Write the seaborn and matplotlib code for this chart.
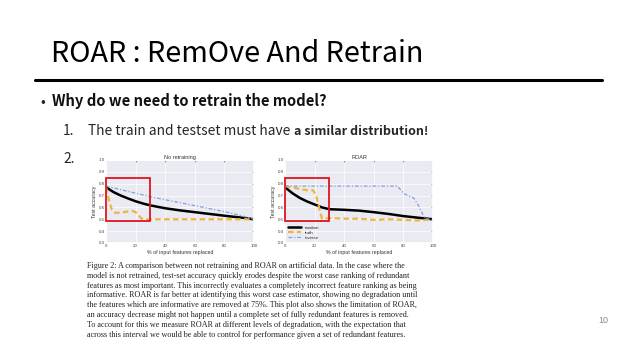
import numpy as np
import pandas as pd
import matplotlib
matplotlib.use("Agg")
import matplotlib.pyplot as plt
from matplotlib.patches import Rectangle
import seaborn as sns

# --- data ----------------------------------------------------------------
# No retraining panel
nr_x = [0, 5, 10, 15, 20, 25, 30, 40, 50, 60, 70, 80, 90, 100]
nr_random = [0.77, 0.73, 0.70, 0.675, 0.652, 0.633, 0.617, 0.593, 0.575, 0.56, 0.545, 0.53, 0.516, 0.50]
nr_inverse = [0.78, 0.765, 0.75, 0.735, 0.72, 0.705, 0.69, 0.665, 0.64, 0.615, 0.59, 0.565, 0.535, 0.50]
nr_truth_x = [0, 2, 4, 6, 10, 14, 18, 20, 22, 24, 26, 40, 60, 80, 100]
nr_truth = [0.77, 0.66, 0.58, 0.555, 0.555, 0.565, 0.57, 0.56, 0.535, 0.505, 0.50, 0.50, 0.50, 0.50, 0.50]

# ROAR panel
roar_x = [0, 5, 10, 15, 20, 25, 30, 40, 50, 60, 70, 80, 90, 100]
roar_random = [0.77, 0.72, 0.68, 0.65, 0.625, 0.60, 0.585, 0.58, 0.573, 0.56, 0.545, 0.527, 0.513, 0.50]
roar_truth_x = [0, 5, 10, 15, 19, 21, 23, 25, 30, 40, 50, 60, 70, 80, 90, 100]
roar_truth = [0.78, 0.77, 0.755, 0.745, 0.745, 0.70, 0.60, 0.505, 0.51, 0.505, 0.505, 0.495, 0.50, 0.495, 0.49, 0.50]
roar_inverse_x = [0, 20, 40, 60, 76, 80, 83, 87, 90, 94, 96, 100]
roar_inverse = [0.78, 0.78, 0.78, 0.78, 0.78, 0.72, 0.70, 0.68, 0.62, 0.52, 0.50, 0.50]

x_ticks = [0, 20, 40, 60, 80, 100]
y_ticks = [0.3, 0.4, 0.5, 0.6, 0.7, 0.8, 0.9, 1.0]
highlight = (0, 30, 0.485, 0.845)  # x0, x1, y0, y1 of the red box

caption = [
    "Figure 2: A comparison between not retraining and ROAR on artificial data. In the case where the",
    "model is not retrained, test-set accuracy quickly erodes despite the worst case ranking of redundant",
    "features as most important. This incorrectly evaluates a completely incorrect feature ranking as being",
    "informative. ROAR is far better at identifying this worst case estimator, showing no degradation until",
    "the features which are informative are removed at 75%. This plot also shows the limitation of ROAR,",
    "an accuracy decrease might not happen until a complete set of fully redundant features is removed.",
    "To account for this we measure ROAR at different levels of degradation, with the expectation that",
    "across this interval we would be able to control for performance given a set of redundant features.",
]

sns.set_theme(style="darkgrid")
slide_font = ["Noto Sans CJK KR", "DejaVu Sans"]
plt.rcParams['font.family'] = ["Liberation Sans", "DejaVu Sans"]

W, H = 638, 359
fig = plt.figure(figsize=(W / 100, H / 100), dpi=100)
fig.patch.set_facecolor("white")


def px(x, y):
    return x / W, 1 - y / H


# slide header
fig.text(*px(51, 62), "ROAR : RemOve And Retrain", family=slide_font, fontsize=20.7,
         ha="left", va="baseline", color="black")
fig.add_artist(plt.Line2D([35 / W, 602 / W], [1 - 80 / H] * 2, color="black", lw=2.2))
fig.text(*px(40, 106), "•", family=slide_font, fontsize=10, va="baseline")
fig.text(*px(52, 106), "Why do we need to retrain the model?", family=slide_font,
         fontsize=10.6, weight="bold", va="baseline", color="#111111")
fig.text(*px(63, 135), "1.", family=slide_font, fontsize=9.9, va="baseline")
t1 = fig.text(*px(88, 135), "The train and testset must have ", family=slide_font,
              fontsize=9.9, va="baseline")
fig.text(*px(63, 163), "2.", family=slide_font, fontsize=9.9, va="baseline")
fig.canvas.draw()
bb = t1.get_window_extent()
fig.text(bb.x1 / W, 1 - 135 / H, "a similar distribution!", family=slide_font,
         fontsize=9.0, weight="bold", va="baseline")

# the two panels
panels = [
    ("No retraining", [106 / W, 1 - 243 / H, 148 / W, 83 / H],
     [(nr_x, nr_random), (nr_truth_x, nr_truth), (nr_x, nr_inverse)]),
    ("ROAR", [285 / W, 1 - 243 / H, 148 / W, 83 / H],
     [(roar_x, roar_random), (roar_truth_x, roar_truth), (roar_inverse_x, roar_inverse)]),
]
styles = [
    dict(label="random", color="black", lw=1.8, linestyle="-"),
    dict(label="truth", color="#f0b43c", lw=1.6, linestyle=(0, (2.5, 1.5))),
    dict(label="inverse", color="#7fa2e0", lw=0.9, linestyle=(0, (3, 1.5, 1, 1.5))),
]

for i, (title, rect, series) in enumerate(panels):
    ax = fig.add_axes(rect)
    for (xs, ys), st in zip(series, styles):
        sns.lineplot(x=xs, y=ys, ax=ax, **st)
    ax.set_xlim(0, 100)
    ax.set_ylim(0.3, 1.0)
    ax.set_xticks(x_ticks)
    ax.set_yticks(y_ticks)
    ax.set_yticklabels([f"{v:.1f}" for v in y_ticks])
    ax.tick_params(labelsize=3.2, length=1.5, width=0.4, colors="#444444",
                   top=True, right=True, direction="in", pad=1)
    ax.grid(color="white", lw=0.5)
    ax.set_title(title, fontsize=4, pad=0.5, color="#333333")
    ax.set_xlabel("% of input features replaced", fontsize=3.8, labelpad=1, color="#333333")
    ax.set_ylabel("Test accuracy", fontsize=3.8, labelpad=1, color="#333333")
    x0, x1, y0, y1 = highlight
    ax.add_patch(Rectangle((x0, y0), x1 - x0, y1 - y0, fill=False, ec="#e0141e",
                           lw=1.3, clip_on=False, zorder=5))
    if i == 1:
        ax.legend(loc="lower left", fontsize=3.2, frameon=False, handlelength=3,
                  borderaxespad=0.3, labelspacing=0.2)
    else:
        leg = ax.get_legend()
        if leg:
            leg.remove()

# caption
for k, line in enumerate(caption):
    fig.text(*px(87, 268 + k * 9.8), line, family=["Liberation Serif", "DejaVu Serif"],
             fontsize=5.9, va="baseline", color="#222222")

fig.text(*px(598, 323), "10", fontsize=6.5, color="#8a8a8a", va="baseline")

fig.savefig("out.png", dpi=100, facecolor="white")
